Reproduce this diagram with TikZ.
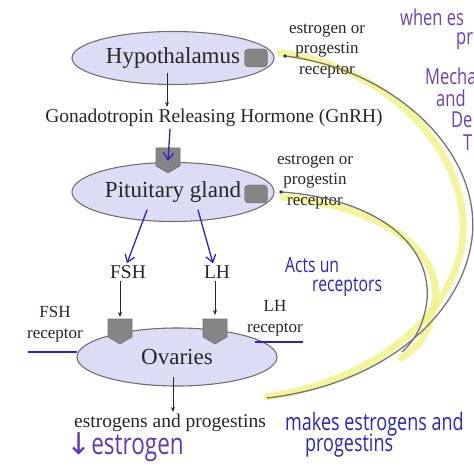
\documentclass[tikz,border=0pt]{standalone}
\usepackage{fontspec}
\setmainfont{Liberation Serif}
\newfontfamily\handfont[FakeStretch=0.75]{Open Sans}
\newfontfamily\symfont{DejaVu Sans}
\usetikzlibrary{arrows.meta, calc, positioning, shapes.geometric}
\usepackage{xcolor}

\definecolor{glandfill}{HTML}{DCDDF4}
\definecolor{glandline}{HTML}{6E6E74}
\definecolor{recgray}{HTML}{858585}
\definecolor{textgray}{HTML}{262626}
\definecolor{inkblue}{HTML}{2B23C8}
\definecolor{inkpurple}{HTML}{6A3FB8}
\definecolor{marker}{HTML}{F4F18C}

\tikzset{
  gland/.style={ellipse, draw=glandline, fill=glandfill, line width=1.1pt,
    minimum width=202pt, minimum height=53pt, inner sep=0pt, text=textgray,
    font=\fontsize{23}{26}\selectfont},
  siderec/.style={draw=black!60, fill=recgray, rounded corners=4pt,
    minimum width=23pt, minimum height=18pt, inner sep=0pt},
  plain/.style={text=textgray, font=\fontsize{19.5}{21}\selectfont, inner sep=2pt},
  reclabel/.style={text=textgray, align=center, inner sep=1pt,
    font=\fontsize{17}{20.5}\selectfont},
  hand/.style={anchor=west, inner sep=0pt, text=inkblue},
  handarrow/.style={draw=inkblue, line width=1.3pt, line cap=round,
    -{Straight Barb[length=7pt,width=10pt]}},
  handline/.style={draw=inkblue, line width=1.3pt},
  feedback/.style={draw=black!55, line width=1.3pt},
  markstroke/.style={draw=marker, line width=7pt, line cap=round, opacity=0.85},
  thinarrow/.style={draw=textgray, line width=0.8pt, -{Stealth[length=5pt,width=4pt]}},
  recpent/.pic={
    \filldraw[fill=recgray, draw=black!55, line width=0.6pt]
      (-12,-13) -- (12,-13) -- (12,5) -- (0,12) -- (-12,5) -- cycle;
  }
}

\begin{document}
\begin{tikzpicture}[x=1pt, y=-1pt]
  \useasboundingbox (0,0) rectangle (474,473);

  % highlighter under the feedback loops
  \draw[markstroke] (280,53) .. controls (390,66) and (478,158) .. (461,250)
    .. controls (447,316) and (378,380) .. (267,397);
  \draw[markstroke] (283,197) .. controls (372,206) and (441,244) .. (435,300)
    .. controls (431,330) and (419,348) .. (401,358);

  % glands
  \node[gland] (hyp) at (173,58) {Hypothalamus};
  \node[siderec] (hrec) at (256,58) {};
  \node[reclabel] (hlab) at (327,51) {estrogen or\\progestin\\receptor};

  \node[plain] (gnrh) at (214,118) {Gonadotropin Releasing Hormone (GnRH)};

  \node[gland, minimum height=59pt] (pit) at (173,192) {Pituitary gland};
  \node[siderec] (prec) at (256,194) {};
  \node[reclabel] (plab) at (315,182) {estrogen or\\progestin\\receptor};
  \coordinate (pp) at (168,161);
  \pic at (pp) {recpent};

  \node[plain] (fsh) at (128,272) {FSH};
  \node[plain] (lh) at (217,272) {LH};
  \node[reclabel] (frl) at (55,324) {FSH\\receptor};
  \node[reclabel] (lrl) at (275,318) {LH\\receptor};

  \node[gland, minimum width=200pt, minimum height=58pt] (ova) at (177,357) {Ovaries};
  \coordinate (rf) at (120,332);
  \coordinate (rl) at (215,332);
  \pic at (rf) {recpent};
  \pic at (rl) {recpent};

  \node[plain] (est) at (170,423) {estrogens and progestins};

  % feedback loops
  \coordinate (hdot) at (285,56);
  \coordinate (pdot) at (281,192);
  \coordinate (fb) at (267,398);
  \coordinate (mg) at (402,352);
  \draw[feedback] (hdot) .. controls (400,70) and (490,160) .. (470,250)
    .. controls (455,320) and (380,385) .. (fb);
  \draw[feedback] (pdot) .. controls (370,198) and (432,240) .. (427,300)
    .. controls (424,325) and (415,340) .. (mg);
  \fill[black!80] (hdot) circle (1.8);
  \fill[black!80] (pdot) circle (1.8);

  % printed arrows
  \draw[thinarrow] ([shift={(-6,15)}]hyp.center) -- ([xshift=-6pt]hyp.center |- gnrh.north);
  \draw[thinarrow] (fsh.south -| rf) -- ([yshift=15pt]rf);
  \draw[thinarrow] (lh.south -| rl) -- ([yshift=17pt]rl);
  \draw[thinarrow] ([shift={(-4,20)}]ova.center) -- ([xshift=-4pt]ova.center |- est.north);

  % hand-drawn arrows and underlines
  \draw[handarrow] ([xshift=-44pt]gnrh.south) -- (pp);
  \draw[handarrow] ([shift={(-26,18)}]pit.center) -- ([xshift=-1pt]fsh.north);
  \draw[handarrow] ([shift={(25,18)}]pit.center) -- ([xshift=-4pt]lh.north);
  \draw[handline] (28,352) -- (77,352);
  \draw[handline] (255,342) -- (303,342);

  % hand-written notes
  \node[hand, font=\handfont\fontsize{21}{21}\selectfont] (acts) at (285,265) {Acts un};
  \node[hand, font=\handfont\fontsize{21}{21}\selectfont] (acts2) at (312,287) {receptors};
  \node[hand, font=\handfont\fontsize{24}{24}\selectfont] (makes) at (285,424) {makes estrogens and};
  \node[hand, font=\handfont\fontsize{24}{24}\selectfont] (makes2) at (305,446) {progestins};
  \node[hand, text=inkpurple!80!inkblue, font=\handfont\fontsize{30}{30}\selectfont] (down) at (66,447)
    {{\symfont ↓}estrogen};
  \node[hand, text=inkpurple, font=\handfont\fontsize{22}{22}\selectfont] (n1) at (400,17) {when es};
  \node[hand, text=inkpurple, font=\handfont\fontsize{22}{22}\selectfont] (n2) at (456,41) {pr};
  \node[hand, text=inkpurple, font=\handfont\fontsize{22}{22}\selectfont] (n3) at (425,76) {Mecha};
  \node[hand, text=inkpurple, font=\handfont\fontsize{22}{22}\selectfont] (n4) at (436,98) {and};
  \node[hand, text=inkpurple, font=\handfont\fontsize{22}{22}\selectfont] (n5) at (451,120) {De};
  \node[hand, text=inkpurple, font=\handfont\fontsize{22}{22}\selectfont] (n6) at (463,143) {T};
\end{tikzpicture}
\end{document}
